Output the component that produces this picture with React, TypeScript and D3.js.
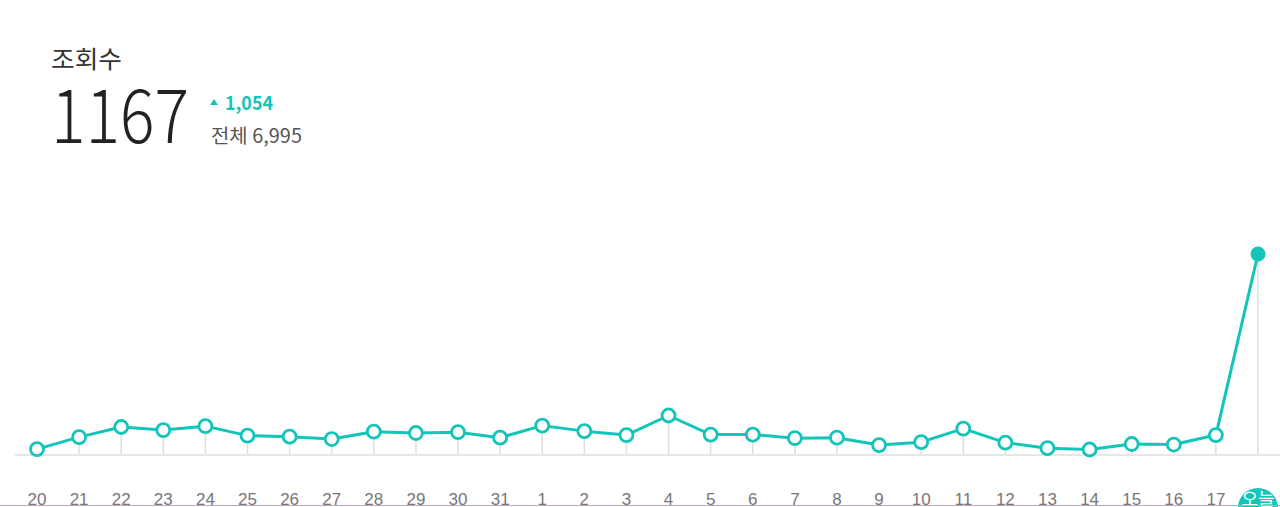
import React from "react";
import * as d3 from "d3";

const dayLabels = ["20","21","22","23","24","25","26","27","28","29","30","31","1","2","3","4","5","6","7","8","9","10","11","12","13","14","15","16","17","오늘"];
const views = [31,101,160,142,165,110,104,90,133,125,130,98,168,136,113,227,116,116,95,98,55,72,151,69,37,29,61,58,113,1167];
const titleText = "조회수";
const todayValue = "1167";
const changeText = "1,054";
const totalText = "전체 6,995";

const TEAL = "#13c4b9";

export default function App() {
  const W = 1280, H = 507;
  const x = d3.scalePoint<string>().domain(dayLabels).range([37, 1258]);
  const y = d3.scaleLinear().domain([0, 1167]).range([454.5, 254]);
  const line = d3.line<number>().x((_, i) => x(dayLabels[i])!).y(d => y(d));
  const last = views.length - 1;
  return (
    <svg width={W} height={H} style={{ position: "absolute", left: 0, top: 0, background: "#fff" }}>
      <text x={51} y={68} fontFamily="'Noto Sans CJK KR'" fontSize={24} fill="#333" textLength={71} lengthAdjust="spacingAndGlyphs">{titleText}</text>
      <text x={51} y={143} fontFamily="'Noto Sans CJK KR'" fontWeight={300} fontSize={75} fill="#222" textLength={138} lengthAdjust="spacingAndGlyphs">{todayValue}</text>
      <path d="M210,105 L214,99 L218,105 Z" fill={TEAL} />
      <text x={225} y={110} fontFamily="'Noto Sans CJK KR'" fontWeight={700} fontSize={19} fill={TEAL} textLength={48} lengthAdjust="spacingAndGlyphs">{changeText}</text>
      <text x={211} y={143} fontFamily="'Noto Sans CJK KR'" fontSize={19.5} fill="#555" textLength={91} lengthAdjust="spacingAndGlyphs">{totalText}</text>

      <line x1={15} x2={W} y1={455} y2={455} stroke="#e6e6e6" strokeWidth={2} />
      {views.map((v, i) => (
        <line key={"g" + i} x1={x(dayLabels[i])} x2={x(dayLabels[i])} y1={y(v)} y2={454} stroke="#dedede" strokeWidth={1.5} />
      ))}
      <path d={line(views)!} fill="none" stroke={TEAL} strokeWidth={3} strokeLinejoin="round" />
      {views.map((v, i) => i === last ? (
        <circle key={"c" + i} cx={x(dayLabels[i])} cy={y(v)} r={7.5} fill={TEAL} />
      ) : (
        <circle key={"c" + i} cx={x(dayLabels[i])} cy={y(v)} r={6.5} fill="#fff" stroke={TEAL} strokeWidth={2.8} />
      ))}
      {dayLabels.map((d, i) => i === last ? (
        <g key={"l" + i}>
          <circle cx={x(d)} cy={508} r={20} fill={TEAL} />
          <text x={x(d)} y={506} textAnchor="middle" fontFamily="'Noto Sans CJK KR'" fontSize={18} fill="#fff">{d}</text>
        </g>
      ) : (
        <text key={"l" + i} x={x(d)} y={505} textAnchor="middle" fontFamily="'Liberation Sans', Arial" fontSize={17} fill="#777">{d}</text>
      ))}
      <line x1={0} x2={W} y1={505.5} y2={505.5} stroke="#c9a6c4" strokeWidth={1} />
    </svg>
  );
}
